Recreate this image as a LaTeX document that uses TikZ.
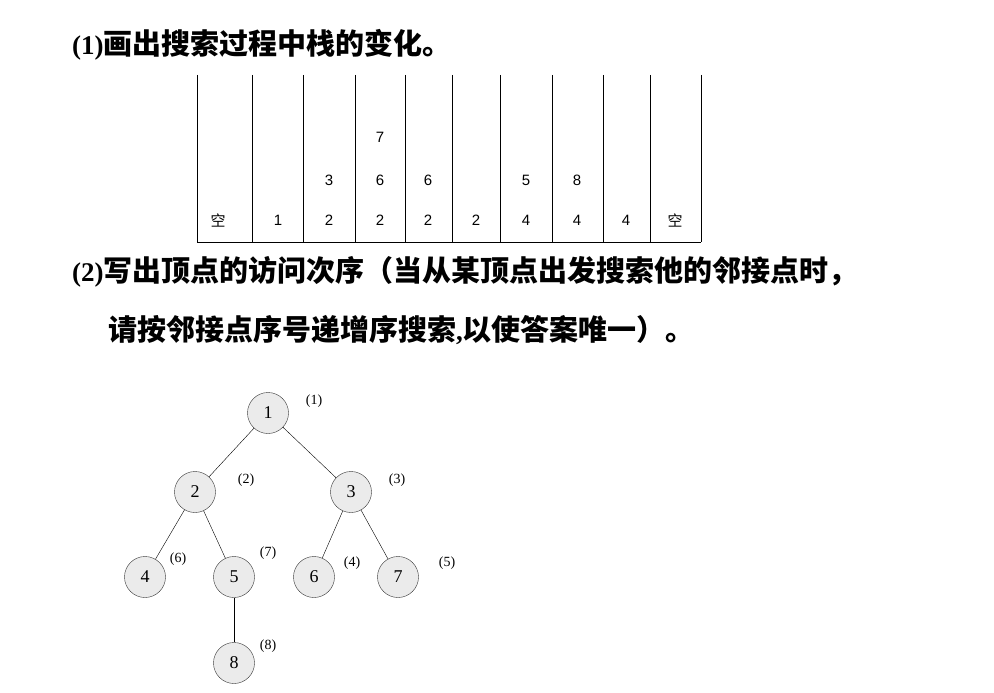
\documentclass[tikz,border=0pt]{standalone}
\usepackage{fontspec}
\setmainfont{Liberation Serif}
\newfontfamily\cjk{Noto Sans CJK SC}
\newfontfamily\cjkb{Noto Sans CJK SC Bold}
\newfontfamily\dsans{Liberation Sans}
\newcommand\hz[1]{{\cjkb\fontsize{29}{29}\selectfont #1}}
\begin{document}
\begin{tikzpicture}[x=1pt,y=-1pt,
  vn/.style={circle,draw=black!80,fill=black!8,minimum size=41pt,inner sep=0pt,font=\fontsize{18}{18}\selectfont},
  ord/.style={font=\fontsize{14}{14}\selectfont},
  cell/.style={font=\dsans\fontsize{15}{15}\selectfont},
  head/.style={anchor=west,inner sep=0pt,font=\fontsize{27}{27}\selectfont\bfseries}]
\useasboundingbox (0,0) rectangle (994,693);
\node[head] (h1) at (72,45) {(1)\hz{画出搜索过程中栈的变化。}};
\node[head] (h2) at (72,272) {(2)\hz{写出顶点的访问次序（当从某顶点出发搜索他的邻接点时，}};
\node[head] (h3) at (108,330) {\hz{请按邻接点序号递增序搜索},\hz{以使答案唯一）。}};
% stack table
\foreach \x in {197,252,303,355,405,452,500,552,603,650,701}
  \draw[thick] (\x,75) -- (\x,242);
\draw[thick] (197,242) -- (701,242);
\node[cell] (c1) at (218,220) {\cjk 空};
\node[cell] (c2) at (278,220) {1};
\node[cell] (c3a) at (329,220) {2};
\node[cell] (c3b) at (329,180) {3};
\node[cell] (c4a) at (380,220) {2};
\node[cell] (c4b) at (380,180) {6};
\node[cell] (c4c) at (380,137) {7};
\node[cell] (c5a) at (428,220) {2};
\node[cell] (c5b) at (428,180) {6};
\node[cell] (c6a) at (476,220) {2};
\node[cell] (c7a) at (526,220) {4};
\node[cell] (c7b) at (526,180) {5};
\node[cell] (c8a) at (577,220) {4};
\node[cell] (c8b) at (577,180) {8};
\node[cell] (c9a) at (626,220) {4};
\node[cell] (c10) at (675,220) {\cjk 空};
% tree
\node[vn] (n1) at (268,413) {1};
\node[vn] (n2) at (195,492) {2};
\node[vn] (n3) at (351,492) {3};
\node[vn] (n4) at (145,577) {4};
\node[vn] (n5) at (234,577) {5};
\node[vn] (n6) at (314,577) {6};
\node[vn] (n7) at (398,577) {7};
\node[vn] (n8) at (234,663) {8};
\draw (n1) -- (n2); \draw (n1) -- (n3);
\draw (n2) -- (n4); \draw (n2) -- (n5);
\draw (n3) -- (n6); \draw (n3) -- (n7);
\draw (n5) -- (n8);
\node[ord] (o1) at (314,401) {(1)};
\node[ord] (o2) at (246,480) {(2)};
\node[ord] (o3) at (397,480) {(3)};
\node[ord] (o6) at (178,559) {(6)};
\node[ord] (o7) at (268,553) {(7)};
\node[ord] (o4) at (352,563) {(4)};
\node[ord] (o5) at (447,563) {(5)};
\node[ord] (o8) at (268,646) {(8)};
\end{tikzpicture}
\end{document}
